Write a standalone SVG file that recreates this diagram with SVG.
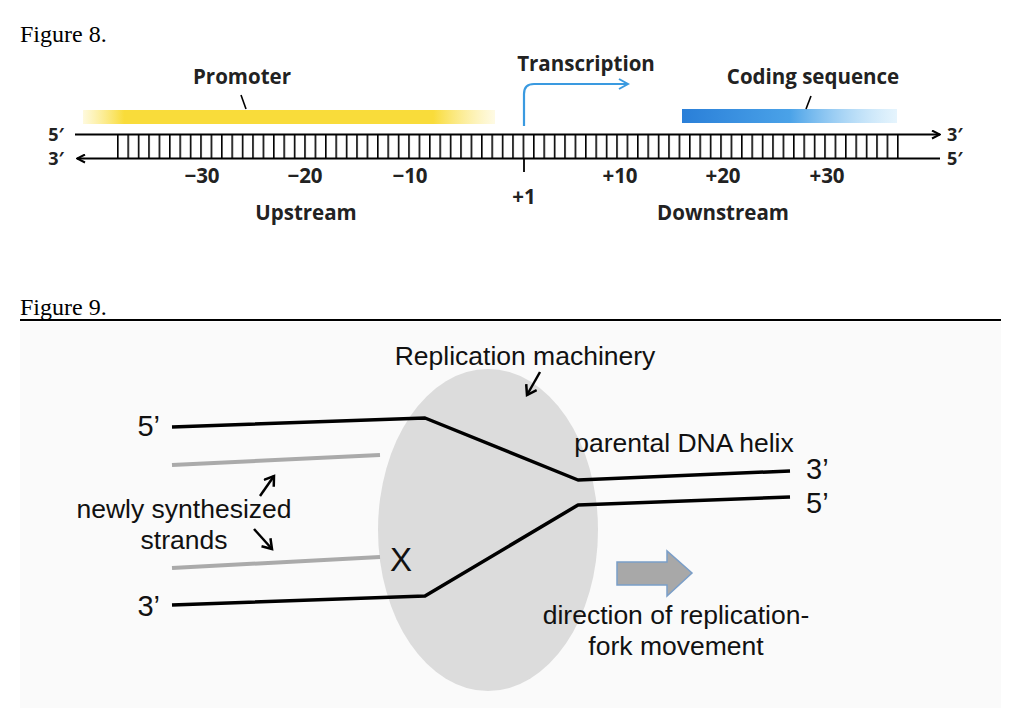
<svg xmlns="http://www.w3.org/2000/svg" width="1024" height="708" viewBox="0 0 1024 708">
<defs>
<style>
.fig{font-family:"Liberation Serif",serif;font-size:24px;fill:#000}
.b{font-family:"Open Sans","Liberation Sans",sans-serif;font-weight:bold;font-size:20.5px;fill:#222}
.s{font-family:"Liberation Sans",Arial,sans-serif;font-size:26.5px;fill:#111}
.str{stroke:#000;stroke-width:3.5;fill:none;stroke-linejoin:round}
.new{stroke:#aaa;stroke-width:4;fill:none}
</style>
<linearGradient id="yel" x1="0" x2="1"><stop offset="0" stop-color="#fbe45a" stop-opacity="0.2"/><stop offset="0.1" stop-color="#f9dc3a"/><stop offset="0.85" stop-color="#f9dc3a"/><stop offset="1" stop-color="#fbe87a" stop-opacity="0.2"/></linearGradient>
<linearGradient id="blu" x1="0" x2="1"><stop offset="0" stop-color="#2a7fd8"/><stop offset="0.5" stop-color="#4aa2e8"/><stop offset="1" stop-color="#bfe4fa" stop-opacity="0.4"/></linearGradient>
<marker id="ah" markerWidth="10" markerHeight="10" refX="9" refY="5" orient="auto" markerUnits="userSpaceOnUse"><path d="M1,1 L9,5 L1,9" fill="none" stroke="#000" stroke-width="2"/></marker>
<marker id="ahb" markerWidth="12" markerHeight="12" refX="10" refY="6" orient="auto" markerUnits="userSpaceOnUse"><path d="M1,1 L10,6 L1,11" fill="none" stroke="#3a9ae0" stroke-width="2"/></marker>
<marker id="ah2" markerWidth="14" markerHeight="14" refX="11" refY="7" orient="auto" markerUnits="userSpaceOnUse"><path d="M2,1 L11,7 L2,13" fill="none" stroke="#000" stroke-width="2.5"/></marker>
<pattern id="rungs" x="117" y="0" width="10.4" height="10" patternUnits="userSpaceOnUse"><rect x="0" y="0" width="1.6" height="10" fill="#000"/></pattern>
</defs>
<rect width="1024" height="708" fill="#fff"/>
<text class="fig" x="20" y="42">Figure 8.</text>

<g id="promoter">
<rect x="83" y="110" width="412" height="14" fill="url(#yel)"/>
<text class="b" x="242" y="84" text-anchor="middle">Promoter</text>
<line x1="241" y1="95" x2="246" y2="109" stroke="#000" stroke-width="1.6"/>
</g>
<g id="coding">
<rect x="682" y="109" width="215" height="14" fill="url(#blu)"/>
<text class="b" x="813" y="84" text-anchor="middle">Coding sequence</text>
<line x1="811" y1="96" x2="806" y2="109" stroke="#000" stroke-width="1.6"/>
</g>
<g id="dna8">
<rect x="117" y="135" width="788" height="23" fill="url(#rungs)"/>
<line x1="75" y1="134.5" x2="940" y2="134.5" stroke="#000" stroke-width="1.8" marker-end="url(#ah)"/>
<line x1="940" y1="158.5" x2="77" y2="158.5" stroke="#000" stroke-width="1.8" marker-end="url(#ah)"/>
<line x1="524" y1="158" x2="524" y2="172" stroke="#000" stroke-width="1.8"/>
<text class="b" x="64" y="141" text-anchor="end" style="font-size:18px">5′</text>
<text class="b" x="64" y="165" text-anchor="end" style="font-size:18px">3′</text>
<text class="b" x="947" y="141" style="font-size:18px">3′</text>
<text class="b" x="947" y="165" style="font-size:18px">5′</text>
</g>
<g id="transcription">
<path d="M524,126 V94 Q524,84 534,84 H628" fill="none" stroke="#3a9ae0" stroke-width="2.2" marker-end="url(#ahb)"/>
<text class="b" x="586" y="71" text-anchor="middle">Transcription</text>
</g>
<g id="scale">
<text class="b" x="202" y="183" text-anchor="middle">−30</text>
<text class="b" x="305" y="183" text-anchor="middle">−20</text>
<text class="b" x="410" y="183" text-anchor="middle">−10</text>
<text class="b" x="524" y="204" text-anchor="middle">+1</text>
<text class="b" x="620" y="183" text-anchor="middle">+10</text>
<text class="b" x="723" y="183" text-anchor="middle">+20</text>
<text class="b" x="827" y="183" text-anchor="middle">+30</text>
<text class="b" x="306" y="220" text-anchor="middle">Upstream</text>
<text class="b" x="723" y="220" text-anchor="middle">Downstream</text>
</g>

<text class="fig" x="20" y="315">Figure 9.</text>
<line x1="20" y1="320" x2="1001" y2="320" stroke="#000" stroke-width="2"/>
<rect x="20" y="322" width="981" height="386" fill="#fafafa"/>

<g id="machinery">
<ellipse cx="488" cy="530" rx="110" ry="161" fill="#dcdcdc"/>
<text class="s" x="525" y="365" text-anchor="middle">Replication machinery</text>
<line x1="540" y1="372" x2="527" y2="395" stroke="#000" stroke-width="2.5" marker-end="url(#ah2)"/>
</g>
<g id="strands">
<path class="str" d="M172,427 L425,418 L578,480 L790,471"/>
<path class="str" d="M172,605 L425,596 L578,505 L790,497"/>
<path class="new" d="M172,465 L380,455"/>
<path class="new" d="M172,568 L380,557"/>
</g>
<g id="labels">
<text class="s" x="160" y="436" text-anchor="end" style="font-size:29px">5’</text>
<text class="s" x="160" y="616" text-anchor="end" style="font-size:29px">3’</text>
<text class="s" x="806" y="479" style="font-size:29px">3’</text>
<text class="s" x="806" y="513" style="font-size:29px">5’</text>
<text class="s" x="401" y="571" text-anchor="middle" style="font-size:33px">X</text>
<text class="s" x="684" y="452" text-anchor="middle">parental DNA helix</text>
<text class="s" x="184" y="518" text-anchor="middle">newly synthesized</text>
<text class="s" x="184" y="549" text-anchor="middle">strands</text>
<line x1="260" y1="496" x2="274" y2="476" stroke="#000" stroke-width="2.5" marker-end="url(#ah2)"/>
<line x1="254" y1="529" x2="272" y2="549" stroke="#000" stroke-width="2.5" marker-end="url(#ah2)"/>
<text class="s" x="676" y="624" text-anchor="middle">direction of replication-</text>
<text class="s" x="676" y="655" text-anchor="middle">fork movement</text>
</g>
<g id="dirarrow">
<path d="M617,562 H667 V551 L692,573 L667,596 V585 H617 Z" fill="#a8a8a8" stroke="#7a9ec8" stroke-width="1.5"/>
</g>
</svg>
